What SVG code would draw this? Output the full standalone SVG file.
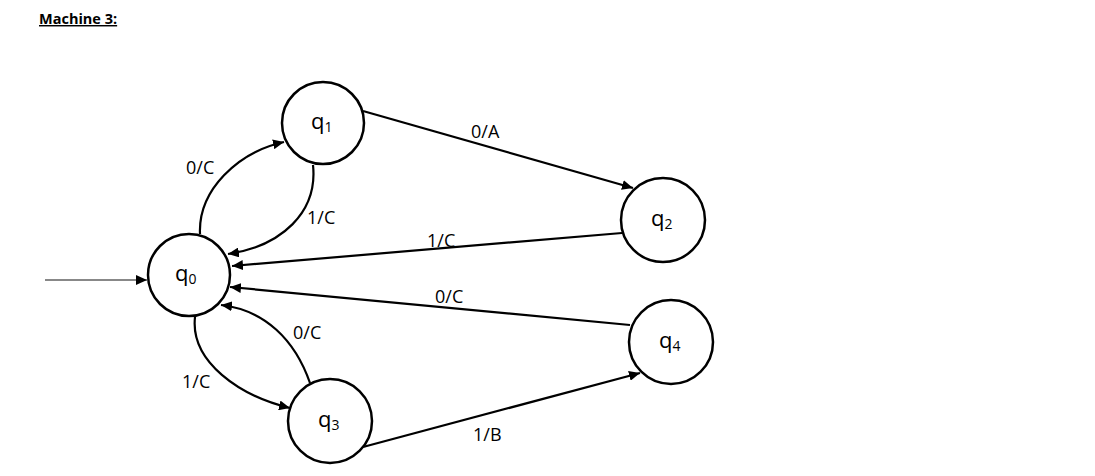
<svg xmlns="http://www.w3.org/2000/svg" width="1095" height="476" viewBox="0 0 1095 476">
<style>
.node circle{fill:#fff;stroke:#000;stroke-width:2.5}
.node text{font-family:"Open Sans","Noto Sans",sans-serif;font-size:22px;fill:#000}
.sub{font-size:14px}
.edge{fill:none;stroke:#000;stroke-width:2.2;marker-end:url(#arr)}
.lbl{font-family:"Open Sans","Noto Sans",sans-serif;font-size:18px;fill:#000}
.title{font-family:"Open Sans","Noto Sans",sans-serif;font-size:14.5px;font-weight:bold;text-decoration:underline;fill:#000}
</style>
<defs>
<marker id="arr" markerUnits="userSpaceOnUse" markerWidth="12" markerHeight="10" refX="11" refY="5" orient="auto">
<path d="M0,0 L11,5 L0,10 z" fill="#000"/>
</marker>
</defs>
<rect width="1095" height="476" fill="#fff"/>
<text class="title" x="39" y="24">Machine 3:</text>
<g id="connectors">
<line x1="45" y1="280" x2="147" y2="280" stroke="#888" stroke-width="2" marker-end="url(#arr)"/>
<path class="edge" d="M200,234 C198,190 238,152 284,142"/>
<path class="edge" d="M313,165 C318,212 282,246 228,254"/>
<path class="edge" d="M195,317 C190,362 240,396 290,408"/>
<path class="edge" d="M310,383 C295,340 265,310 221,305"/>
<line class="edge" x1="363" y1="111" x2="633" y2="188"/>
<line class="edge" x1="622" y1="233" x2="232" y2="266"/>
<line class="edge" x1="630" y1="325" x2="230" y2="287"/>
<line class="edge" x1="363" y1="447" x2="640" y2="373"/>
<text class="lbl" x="186" y="174">0/C</text>
<text class="lbl" x="307" y="224">1/C</text>
<text class="lbl" x="471" y="138">0/A</text>
<text class="lbl" x="427" y="247">1/C</text>
<text class="lbl" x="435" y="303">0/C</text>
<text class="lbl" x="293" y="339">0/C</text>
<text class="lbl" x="182" y="388">1/C</text>
<text class="lbl" x="473" y="441">1/B</text>
</g>
<g id="q0" class="node"><circle cx="189" cy="275" r="41"/><text x="175" y="281">q<tspan class="sub" dy="3">0</tspan></text></g>
<g id="q1" class="node"><circle cx="323" cy="123" r="41"/><text x="311" y="129">q<tspan class="sub" dy="3">1</tspan></text></g>
<g id="q2" class="node"><circle cx="663" cy="220" r="42"/><text x="651" y="226">q<tspan class="sub" dy="3">2</tspan></text></g>
<g id="q3" class="node"><circle cx="330" cy="421" r="42"/><text x="318" y="427">q<tspan class="sub" dy="3">3</tspan></text></g>
<g id="q4" class="node"><circle cx="671" cy="342" r="42"/><text x="659" y="348">q<tspan class="sub" dy="3">4</tspan></text></g>
</svg>
